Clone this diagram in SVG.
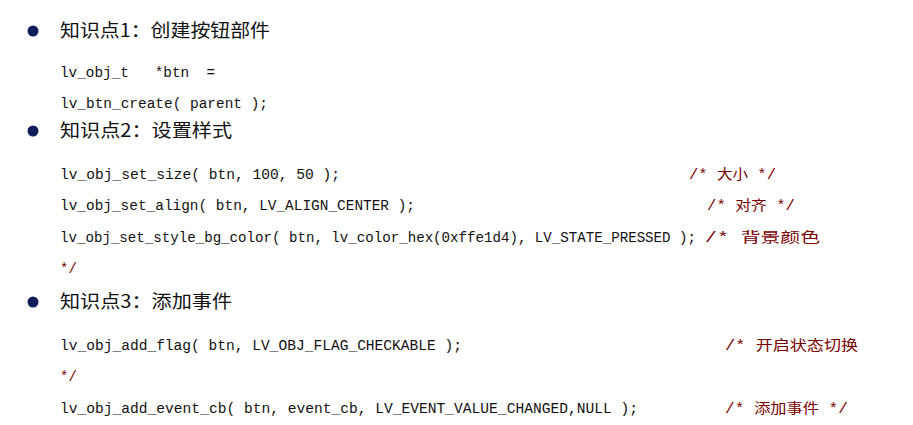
<svg xmlns="http://www.w3.org/2000/svg" width="913" height="425" viewBox="0 0 913 425">
<style>
.h{font-family:"Noto Sans CJK SC","Noto Sans",sans-serif;font-size:18px;fill:#111}
.c{font-family:"Liberation Mono","Noto Sans CJK SC",monospace;font-size:14px;fill:#111}
.m{font-family:"Liberation Mono","Noto Sans CJK SC",monospace;font-size:14px;fill:#7a0000}
.b{fill:#0f1e5a}
</style>
<rect width="913" height="425" fill="#fff"/>
<g id="k1">
<circle class="b" cx="33" cy="31" r="5.5"/>
<text class="h" x="60" y="37" textLength="210" lengthAdjust="spacingAndGlyphs">知识点1：创建按钮部件</text>
<text class="c" x="60" y="77" textLength="155" lengthAdjust="spacingAndGlyphs" xml:space="preserve">lv_obj_t   *btn  =</text>
<text class="c" x="60" y="108" textLength="208" lengthAdjust="spacingAndGlyphs">lv_btn_create( parent );</text>
</g>
<g id="k2">
<circle class="b" cx="33" cy="131" r="5.5"/>
<text class="h" x="60" y="137" textLength="172" lengthAdjust="spacingAndGlyphs">知识点2：设置样式</text>
<text class="c" x="60" y="179" textLength="280" lengthAdjust="spacingAndGlyphs">lv_obj_set_size( btn, 100, 50 );</text>
<text class="m" x="689" y="179" textLength="87" lengthAdjust="spacingAndGlyphs">/* 大小 */</text>
<text class="c" x="60" y="210" textLength="355" lengthAdjust="spacingAndGlyphs">lv_obj_set_align( btn, LV_ALIGN_CENTER );</text>
<text class="m" x="707" y="210" textLength="88" lengthAdjust="spacingAndGlyphs">/* 对齐 */</text>
<text class="c" x="60" y="242" textLength="636" lengthAdjust="spacingAndGlyphs">lv_obj_set_style_bg_color( btn, lv_color_hex(0xffe1d4), LV_STATE_PRESSED );</text>
<text class="m" x="705" y="242" textLength="115" lengthAdjust="spacingAndGlyphs">/* 背景颜色</text>
<text class="m" x="60" y="273">*/</text>
</g>
<g id="k3">
<circle class="b" cx="33" cy="302" r="5.5"/>
<text class="h" x="60" y="308" textLength="172" lengthAdjust="spacingAndGlyphs">知识点3：添加事件</text>
<text class="c" x="60" y="350" textLength="402" lengthAdjust="spacingAndGlyphs">lv_obj_add_flag( btn, LV_OBJ_FLAG_CHECKABLE );</text>
<text class="m" x="725" y="350" textLength="133" lengthAdjust="spacingAndGlyphs">/* 开启状态切换</text>
<text class="m" x="60" y="381">*/</text>
<text class="c" x="60" y="413" textLength="578" lengthAdjust="spacingAndGlyphs">lv_obj_add_event_cb( btn, event_cb, LV_EVENT_VALUE_CHANGED,NULL );</text>
<text class="m" x="725" y="413" textLength="123" lengthAdjust="spacingAndGlyphs">/* 添加事件 */</text>
</g>
<g id="connectors"/>
</svg>
